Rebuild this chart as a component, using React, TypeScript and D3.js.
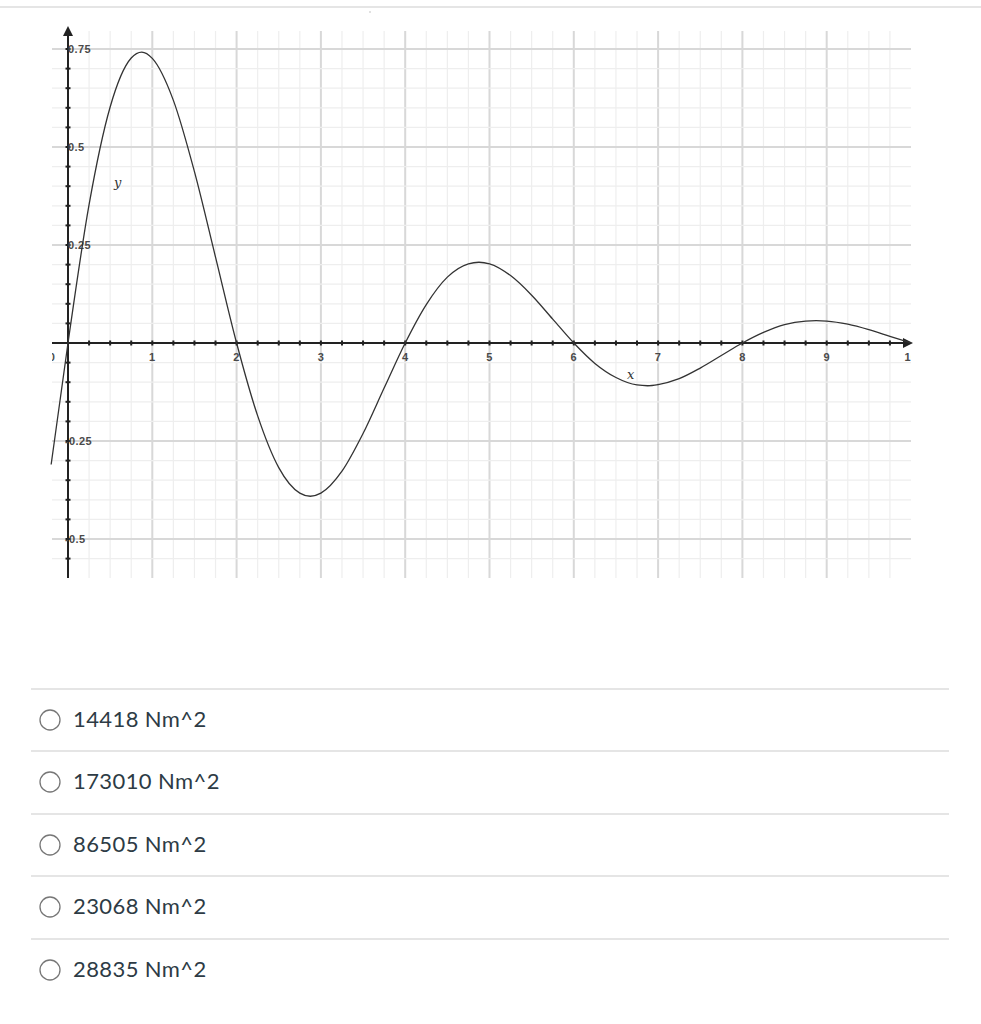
import * as d3 from "d3";
import { useEffect, useRef } from "react";

// curve (x, y)
const curveX = [-0.2, 0, 0.25, 0.5, 0.75, 0.875, 1, 1.25, 1.5, 1.75, 2, 2.25, 2.5, 2.75, 2.875, 3, 3.25, 3.5, 3.75, 4, 4.25, 4.5, 4.75, 4.875, 5, 5.25, 5.5, 5.75, 6, 6.25, 6.5, 6.75, 6.875, 7, 7.25, 7.5, 7.75, 8, 8.25, 8.5, 8.75, 8.875, 9, 9.25, 9.5, 9.75, 10];
const curveY = [-0.31, 0, 0.353, 0.602, 0.727, 0.742, 0.726, 0.619, 0.437, 0.219, 0, -0.186, -0.318, -0.383, -0.391, -0.383, -0.327, -0.231, -0.115, 0, 0.098, 0.168, 0.202, 0.206, 0.202, 0.172, 0.122, 0.061, 0, -0.052, -0.088, -0.107, -0.109, -0.106, -0.091, -0.064, -0.032, 0, 0.027, 0.047, 0.056, 0.057, 0.056, 0.048, 0.034, 0.017, 0];
const xTicks = [0, 1, 2, 3, 4, 5, 6, 7, 8, 9, 10];
const yTicks = [0.75, 0.5, 0.25, -0.25, -0.5];
const yTickLabels = ["0.75", "0.5", "0.25", "-0.25", "-0.5"];
const answers = ["14418 Nm^2", "173010 Nm^2", "86505 Nm^2", "23068 Nm^2", "28835 Nm^2"];

function App() {
	const ref = useRef<SVGSVGElement>(null);
	useEffect(() => {
		const svg = d3.select(ref.current);
		svg.selectAll("*").remove();
		const x = d3.scaleLinear().domain([0, 10]).range([68, 911]);
		const y = d3.scaleLinear().domain([0, 0.75]).range([343, 49]);
		const left = 52, right = 911, top = 31, bottom = 578;

		// top separator
		svg.append("line").attr("x1", 0).attr("x2", 981).attr("y1", 7).attr("y2", 7)
			.attr("stroke", "#ddd").attr("stroke-width", 1.5);
		svg.append("circle").attr("cx", 370).attr("cy", 12).attr("r", 0.8).attr("fill", "#bbb");

		const defs = svg.append("defs");
		defs.append("clipPath").attr("id", "plotclip").append("rect")
			.attr("x", left).attr("y", top - 6).attr("width", right - left).attr("height", bottom - top + 6);
		defs.append("marker").attr("id", "arrow").attr("viewBox", "0 0 10 10")
			.attr("refX", 8).attr("refY", 5).attr("markerWidth", 5).attr("markerHeight", 5)
			.attr("orient", "auto").append("path").attr("d", "M0,0L10,5L0,10z").attr("fill", "#222");

		const g = svg.append("g");
		// grid
		const xMinor = d3.range(-0.5, 10.01, 0.25).filter((v) => x(v) >= left && x(v) <= right - 1);
		const yMinor = d3.range(-0.6, 0.8, 0.05).filter((v) => y(v) >= top && y(v) <= bottom);
		g.selectAll(".vm").data(xMinor).enter().append("line")
			.attr("x1", (d) => x(d)).attr("x2", (d) => x(d)).attr("y1", top).attr("y2", bottom)
			.attr("stroke", (d) => (Math.abs(d - Math.round(d)) < 1e-6 ? "#d8d8d8" : "#eeeeee"))
			.attr("stroke-width", (d) => (Math.abs(d - Math.round(d)) < 1e-6 ? 2 : 1.2));
		g.selectAll(".hm").data(yMinor).enter().append("line")
			.attr("x1", left).attr("x2", right).attr("y1", (d) => y(d)).attr("y2", (d) => y(d))
			.attr("stroke", (d) => (Math.abs(d * 4 - Math.round(d * 4)) < 1e-6 ? "#d8d8d8" : "#eeeeee"))
			.attr("stroke-width", (d) => (Math.abs(d * 4 - Math.round(d * 4)) < 1e-6 ? 2 : 1.2));

		// axes
		g.append("line").attr("x1", left).attr("x2", right).attr("y1", y(0)).attr("y2", y(0))
			.attr("stroke", "#222").attr("stroke-width", 2).attr("marker-end", "url(#arrow)");
		g.append("line").attr("x1", x(0)).attr("x2", x(0)).attr("y1", bottom).attr("y2", top - 3)
			.attr("stroke", "#222").attr("stroke-width", 2).attr("marker-end", "url(#arrow)");
		// axis ticks
		g.selectAll(".xt").data(d3.range(0.25, 10, 0.25)).enter().append("line")
			.attr("x1", (d) => x(d)).attr("x2", (d) => x(d)).attr("y1", y(0) - 2.5).attr("y2", y(0) + 2.5)
			.attr("stroke", "#222").attr("stroke-width", 2);
		g.selectAll(".yt").data(yMinor.filter((d) => Math.abs(d) > 1e-6)).enter().append("line")
			.attr("x1", x(0) - 2.5).attr("x2", x(0) + 2.5).attr("y1", (d) => y(d)).attr("y2", (d) => y(d))
			.attr("stroke", "#222").attr("stroke-width", 2);

		// tick labels
		const lab = svg.append("g").attr("clip-path", "url(#plotclip)")
			.style("font-family", "Liberation Sans, Arial, sans-serif").style("font-size", "11px")
			.style("font-weight", "600").style("letter-spacing", "0.4px").attr("fill", "#4a4a4a");
		lab.selectAll(".xl").data(xTicks).enter().append("text")
			.attr("x", (d) => x(d) + (d === 0 ? -16 : 0)).attr("y", y(0) + 18)
			.attr("text-anchor", "middle").text((d) => String(d));
		lab.selectAll(".yl").data(yTicks).enter().append("text")
			.attr("x", (_, i) => (yTickLabels[i].startsWith("-") ? x(0) - 3 : x(0)))
			.attr("y", (d) => y(d) + 4).text((_, i) => yTickLabels[i]);

		// curve
		const pts = curveX.map((v, i) => [v, curveY[i]] as [number, number]);
		const line = d3.line<[number, number]>().x((d) => x(d[0])).y((d) => y(d[1])).curve(d3.curveMonotoneX);
		svg.append("path").datum(pts).attr("d", line).attr("fill", "none")
			.attr("stroke", "#333").attr("stroke-width", 1.3);

		// variable labels
		svg.append("text").attr("x", 114).attr("y", 187).text("y")
			.style("font-family", "DejaVu Serif, serif").style("font-style", "italic").style("font-size", "13px").attr("fill", "#333");
		svg.append("text").attr("x", 627).attr("y", 379).text("x")
			.style("font-family", "DejaVu Serif, serif").style("font-style", "italic").style("font-size", "13px").attr("fill", "#333");

		// answer options
		const sepY = [689, 751, 814, 876, 939];
		const opt = svg.append("g");
		opt.selectAll(".sep").data(sepY).enter().append("line")
			.attr("x1", 31).attr("x2", 949).attr("y1", (d) => d).attr("y2", (d) => d)
			.attr("stroke", "#ddd").attr("stroke-width", 1.5);
		opt.selectAll(".rad").data(answers).enter().append("circle")
			.attr("cx", 50).attr("cy", (_, i) => sepY[i] + 31).attr("r", 10)
			.attr("fill", "#fff").attr("stroke", "#777").attr("stroke-width", 1.3);
		opt.selectAll(".ans").data(answers).enter().append("text")
			.attr("x", 73).attr("y", (_, i) => sepY[i] + 38)
			.style("font-family", "Lato, sans-serif").style("font-size", "22px").style("letter-spacing", "0.4px")
			.attr("fill", "#2d3b45").text((d) => d);
	}, []);
	return (
		<svg ref={ref} width={981} height={1024} style={{ position: "absolute", left: 0, top: 0 }} />
	);
}

export default App;
